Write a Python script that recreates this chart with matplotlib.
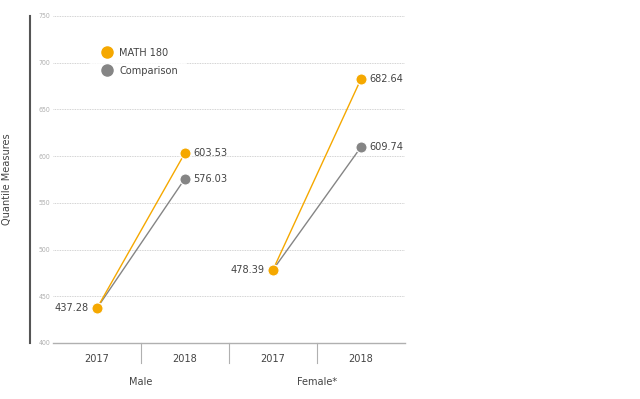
import matplotlib
matplotlib.use("Agg")
import matplotlib.pyplot as plt
from matplotlib.lines import Line2D

plt.rcParams['font.family'] = ['DejaVu Sans']
plt.rcParams['font.stretch'] = 'condensed'

# data
groups = ['Male', 'Female*']
years = ['2017', '2018']
math180 = {'Male': [437.28, 603.53], 'Female*': [478.39, 682.64]}
comparison = {'Male': [437.28, 576.03], 'Female*': [478.39, 609.74]}

orange = '#F5A800'
grey = '#858585'
txt = '#444444'

fig = plt.figure(figsize=(6.4, 3.99), dpi=100)
ax = fig.add_axes([53/640, 1-343/399, 352/640, 327/399])

for gi, g in enumerate(groups):
    xs = [gi*2, gi*2+1]
    ax.plot(xs, comparison[g], color=grey, lw=1, marker='o', ms=8,
            mec='white', mew=0.8, zorder=3)
    ax.plot(xs, math180[g], color=orange, lw=1, marker='o', ms=8,
            mec='white', mew=0.8, zorder=4)
    # labels
    ax.annotate(f"{math180[g][0]:.2f}", (xs[0], math180[g][0]), xytext=(-6, 0),
                textcoords='offset points', ha='right', va='center', fontsize=7.8, color=txt)
    ax.annotate(f"{math180[g][1]:.2f}", (xs[1], math180[g][1]), xytext=(6, 0),
                textcoords='offset points', ha='left', va='center', fontsize=7.8, color=txt)
    ax.annotate(f"{comparison[g][1]:.2f}", (xs[1], comparison[g][1]), xytext=(6, 0),
                textcoords='offset points', ha='left', va='center', fontsize=7.8, color=txt)

ax.set_xlim(-0.5, 3.5)
ax.set_ylim(400, 750)
ax.set_yticks(range(400, 751, 50))
ax.tick_params(axis='y', length=0, labelsize=5, labelcolor='#b0b0b0', pad=2)
ax.set_xticks(range(4))
ax.set_xticklabels(years * 2, fontsize=7.8, color=txt)
ax.tick_params(axis='x', length=0, pad=8)
ax.grid(axis='y', color='#c4c4c4', ls=(0, (1, 1)), lw=0.6)
ax.set_axisbelow(True)
for s in ['top', 'right', 'left']:
    ax.spines[s].set_visible(False)
ax.spines['bottom'].set_color('#b0b0b0')
ax.spines['bottom'].set_linewidth(1)

# separators below the axis
for xsep in [0.5, 1.5, 2.5]:
    ax.plot([xsep, xsep], [0, -0.06], transform=ax.get_xaxis_transform(),
            color='#b0b0b0', lw=0.8, clip_on=False)

for gi, g in enumerate(groups):
    ax.text(gi*2+0.5, -0.105, g, transform=ax.get_xaxis_transform(),
            ha='center', va='top', fontsize=7.8, color=txt)

ax.set_ylabel('Quantile Measures', fontsize=7.8, color=txt)
ax.yaxis.set_label_coords(-53/352 + 12/352, 0.5)

fig.add_artist(Line2D([30/640, 30/640], [1-343/399, 1-16/399], color='#555555', lw=1.5))

handles = [Line2D([], [], marker='o', ls='', color=orange, ms=8),
           Line2D([], [], marker='o', ls='', color=grey, ms=8)]
leg = ax.legend(handles, ['MATH 180', 'Comparison'], loc='upper left',
                bbox_to_anchor=(0.09, 0.94), frameon=True, fontsize=7.8,
                handletextpad=0.1, labelspacing=0.75, borderpad=0.6)
leg.get_frame().set_facecolor('white')
leg.get_frame().set_edgecolor('white')
for t in leg.get_texts():
    t.set_color(txt)

fig.savefig('out.png', dpi=100)
